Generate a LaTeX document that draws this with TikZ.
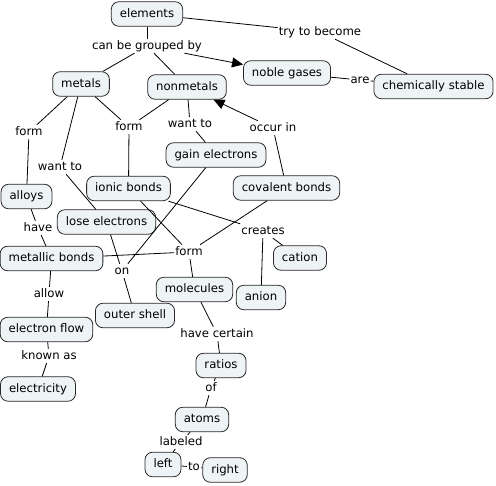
\documentclass[tikz,border=0pt]{standalone}
\usepackage{fontspec}
\setmainfont{DejaVu Sans}
\usepackage{xcolor}
\definecolor{conceptfill}{RGB}{238,243,245}
\definecolor{conceptline}{RGB}{40,40,40}
\usetikzlibrary{arrows.meta}

\begin{document}
\begin{tikzpicture}[x=1pt, y=-1pt,
    concept/.style={draw=conceptline, fill=conceptfill, rounded corners=7.5pt, line width=0.8pt,
        inner xsep=8.5pt, minimum height=24.5pt, text height=8.6pt, text depth=2.4pt,
        font=\fontsize{11.7}{14}\selectfont},
    linkword/.style={inner xsep=1pt, inner ysep=1.5pt, text height=8.6pt, text depth=2.4pt,
        font=\fontsize{11.7}{14}\selectfont},
    link/.style={line width=0.8pt},
    linkarrow/.style={link, -{Triangle[length=11pt, width=10pt]}}]
    \useasboundingbox (0,0) rectangle (496,486);

    % Concepts
    \node[concept] (elements) at (147,14) {elements};
    \node[concept] (metals) at (81,84) {metals};
    \node[concept] (nonmetals) at (187,87) {nonmetals};
    \node[concept] (noble) at (287,73) {noble gases};
    \node[concept] (stable) at (433.5,86.5) {chemically stable};
    \node[concept] (gain) at (216,155) {gain electrons};
    \node[concept] (ionic) at (128.5,188.5) {ionic bonds};
    \node[concept] (covalent) at (286.5,188) {covalent bonds};
    \node[concept] (alloys) at (26.5,196.5) {alloys};
    \node[concept] (lose) at (106.5,222) {lose electrons};
    \node[concept] (metallic) at (51.5,258.5) {metallic bonds};
    \node[concept] (cation) at (300,258) {cation};
    \node[concept] (anion) at (261,297.5) {anion};
    \node[concept] (molecules) at (194.5,289.5) {molecules};
    \node[concept] (outer) at (135,315.5) {outer shell};
    \node[concept] (flow) at (46.5,329.5) {electron flow};
    \node[concept] (electricity) at (38,389) {electricity};
    \node[concept] (ratios) at (221,365.5) {ratios};
    \node[concept] (atoms) at (202,419.5) {atoms};
    \node[concept] (left) at (163,464.5) {left};
    \node[concept] (right) at (225,470) {right};

    % Linking phrases
    \node[linkword] (grouped) at (147,46) {can be grouped by};
    \node[linkword] (trybecome) at (320,32) {try to become};
    \node[linkword] (are) at (360,80) {are};
    \node[linkword] (formmetals) at (29,132) {form};
    \node[linkword] (formionic) at (129,127) {form};
    \node[linkword] (wantlose) at (60,167) {want to};
    \node[linkword] (wantgain) at (190,124) {want to};
    \node[linkword] (occur) at (273,128) {occur in};
    \node[linkword] (have) at (38,228) {have};
    \node[linkword] (formmolecules) at (189,252) {form};
    \node[linkword] (creates) at (263,231) {creates};
    \node[linkword] (on) at (122,271) {on};
    \node[linkword] (allow) at (49,294) {allow};
    \node[linkword] (known) at (49,356) {known as};
    \node[linkword] (certain) at (217,334) {have certain};
    \node[linkword] (of) at (211,388) {of};
    \node[linkword] (labeled) at (181,442) {labeled};
    \node[linkword] (to) at (194,467) {to};

    % Connectors
    \draw[link] (elements) -- (grouped);
    \draw[link] (grouped) -- (metals);
    \draw[link] (grouped) -- (nonmetals);
    \draw[linkarrow] (grouped) -- (noble);
    \draw[link] (elements) -- (trybecome) -- (stable);
    \draw[link] (noble) -- (are) -- (stable);
    \draw[link] (metals) -- (formmetals) -- (alloys);
    \draw[link] (metals) -- (wantlose) -- (lose);
    \draw[link] (metals) -- (formionic);
    \draw[link] (nonmetals) -- (formionic) -- (ionic);
    \draw[link] (nonmetals) -- (wantgain) -- (gain);
    \draw[link] (covalent) -- (occur);
    \draw[linkarrow] (occur) -- (nonmetals);
    \draw[link] (alloys) -- (have) -- (metallic);
    \draw[link] (ionic) -- (formmolecules);
    \draw[link] (metallic) -- (formmolecules);
    \draw[link] (covalent) -- (formmolecules) -- (molecules);
    \draw[link] (ionic) -- (creates);
    \draw[link] (creates) -- (cation);
    \draw[link] (creates) -- (anion);
    \draw[link] (lose) -- (on);
    \draw[link] (gain) -- (on) -- (outer);
    \draw[link] (metallic) -- (allow) -- (flow);
    \draw[link] (flow) -- (known) -- (electricity);
    \draw[link] (molecules) -- (certain) -- (ratios);
    \draw[link] (ratios) -- (of) -- (atoms);
    \draw[link] (atoms) -- (labeled) -- (left);
    \draw[link] (left) -- (to) -- (right);
\end{tikzpicture}
\end{document}
